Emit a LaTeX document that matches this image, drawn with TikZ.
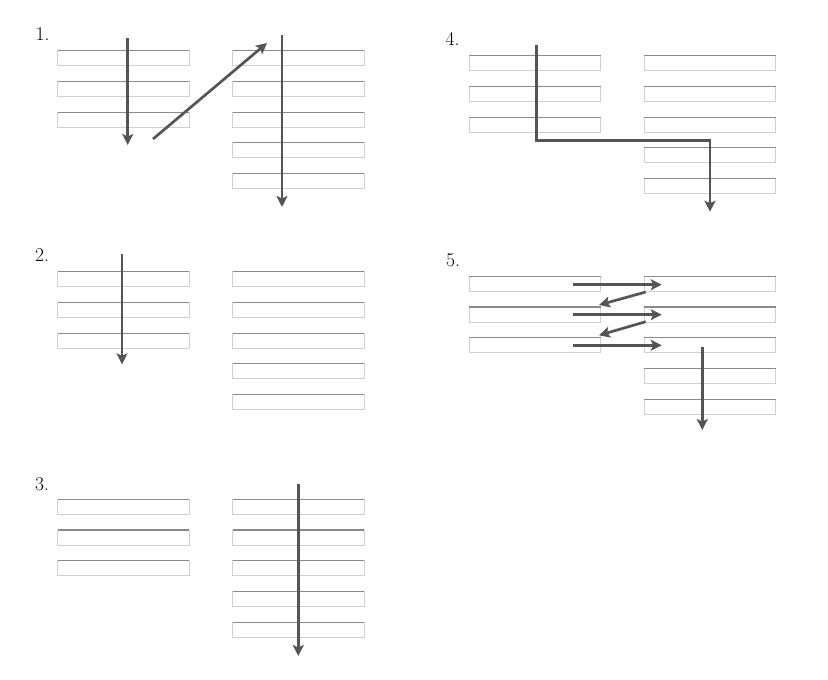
\documentclass[tikz,border=0pt]{standalone}
\usepackage{fontspec}
\usetikzlibrary{arrows.meta}
\definecolor{boxedge}{HTML}{D0D0D0}
\definecolor{boxtop}{HTML}{8A8A8A}
\definecolor{arrowc}{HTML}{555555}
\tikzset{
  rowbox/.style={draw=boxedge, line width=1pt, fill=white, minimum width=131.5pt,
    minimum height=15pt, anchor=north west, inner sep=0pt, outer sep=0pt},
  topline/.style={draw=boxtop, line width=1.2pt},
  arr/.style={draw=arrowc, line width=2.7pt, line join=miter,
    -{Stealth[length=11pt,width=11pt,inset=2.5pt]}},
  plabel/.style={anchor=base west, inner sep=0pt, font=\fontsize{19.5}{23}\selectfont}
}
\begin{document}
\begin{tikzpicture}[x=1pt,y=-1pt]
\useasboundingbox (0,0) rectangle (828,680);
% boxes
\foreach \p/\dx/\dy in {1/0/50.7, 2/0/271.7, 3/0/499.3, 4/411.6/55.7, 5/411.6/276.3} {
  \foreach \k in {1,2,3} {
    \node[rowbox] (p\p l\k) at (57.7+\dx, \dy+30.7*\k-30.7) {};
    \draw[topline] (p\p l\k.north west) -- (p\p l\k.north east);
  }
  \foreach \k in {1,...,5} {
    \node[rowbox] (p\p r\k) at (232.7+\dx, \dy+30.7*\k-30.7) {};
    \draw[topline] (p\p r\k.north west) -- (p\p r\k.north east);
  }
}
% labels
\node[plabel] (lab1) at (35.5,40.3) {1.};
\node[plabel] (lab2) at (35,261.7) {2.};
\node[plabel] (lab3) at (35,490.7) {3.};
\node[plabel] (lab4) at (445.5,45.7) {4.};
\node[plabel] (lab5) at (446,266.7) {5.};
% panel 1 arrows
\coordinate (a1s) at (127.7,38);  \coordinate (a1e) at (127.7,145);
\coordinate (a2s) at (153,139);   \coordinate (a2e) at (267,43);
\coordinate (a3s) at (282,35);    \coordinate (a3e) at (282,207);
\draw[arr] (a1s) -- (a1e);
\draw[arr] (a2s) -- (a2e);
\draw[arr] (a3s) -- (a3e);
% panel 2
\coordinate (b1s) at (122,254);   \coordinate (b1e) at (122,364.3);
\draw[arr] (b1s) -- (b1e);
% panel 3
\coordinate (c1s) at (298.3,484); \coordinate (c1e) at (298.3,656);
\draw[arr] (c1s) -- (c1e);
% panel 4
\coordinate (d1s) at (536.7,45);  \coordinate (d1m) at (536.7,140.7);
\coordinate (d1n) at (710,140.7); \coordinate (d1e) at (710,211.7);
\draw[arr] (d1s) -- (d1m) -- (d1n) -- (d1e);
% panel 5
\coordinate (e1s) at (573.3,284.7); \coordinate (e1e) at (661.7,284.7);
\coordinate (e2s) at (645.7,292);   \coordinate (e2e) at (599,305);
\coordinate (e3s) at (573.3,314.7); \coordinate (e3e) at (661.7,314.7);
\coordinate (e4s) at (645.7,321.7); \coordinate (e4e) at (599,335.3);
\coordinate (e5s) at (573.3,345.3); \coordinate (e5e) at (661.7,345.3);
\coordinate (e6s) at (702.3,346.7); \coordinate (e6e) at (702.3,430);
\draw[arr] (e1s) -- (e1e);
\draw[arr] (e2s) -- (e2e);
\draw[arr] (e3s) -- (e3e);
\draw[arr] (e4s) -- (e4e);
\draw[arr] (e5s) -- (e5e);
\draw[arr] (e6s) -- (e6e);
\end{tikzpicture}
\end{document}
